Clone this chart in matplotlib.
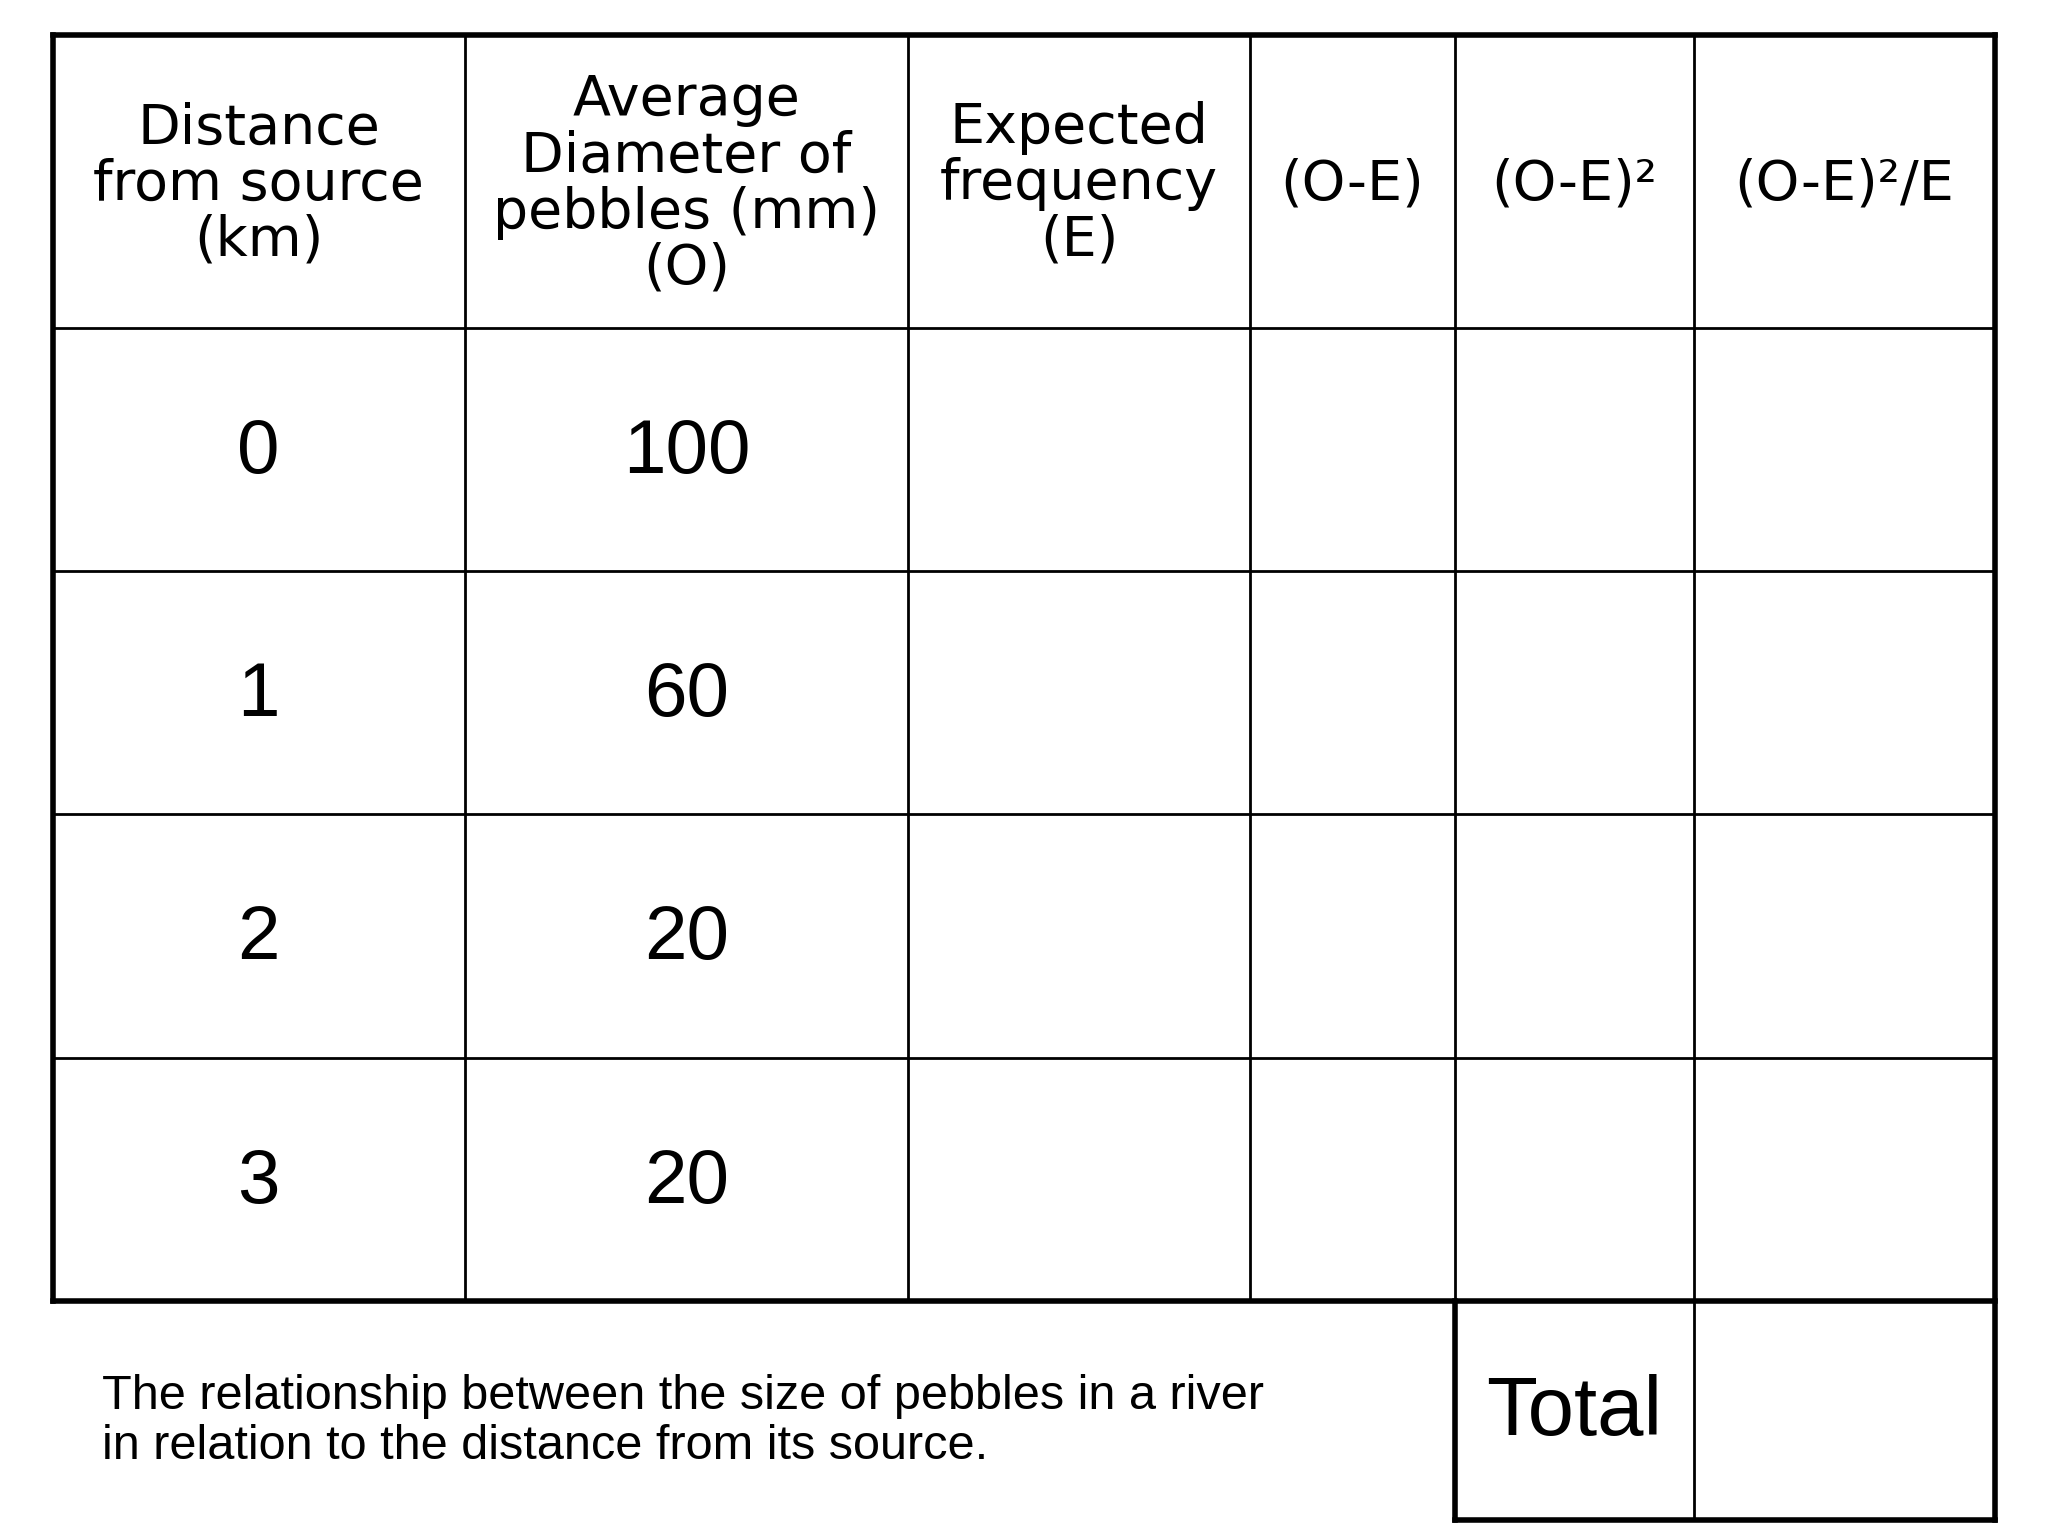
import matplotlib
matplotlib.use("Agg")
import matplotlib.pyplot as plt

headers = ["Distance\nfrom source\n(km)", "Average\nDiameter of\npebbles (mm)\n(O)",
           "Expected\nfrequency\n(E)", "(O-E)", "(O-E)²", "(O-E)²/E"]
distances = ["0", "1", "2", "3"]
diameters = ["100", "60", "20", "20"]
caption = "The relationship between the size of pebbles in a river\nin relation to the distance from its source."
total_label = "Total"

xs = [40, 354, 692, 952, 1108, 1290, 1520]
ys = [27, 250, 435, 620, 806, 991]
ybot = 1158

fig = plt.figure(figsize=(20.48, 15.36), dpi=100)
ax = fig.add_axes([0, 0, 1, 1])
ax.set_xlim(0, 1560)
ax.set_ylim(1170, 0)
ax.axis("off")

thin, thick = 2.0, 4.0
for y in ys[1:-1]:
    ax.plot([xs[0], xs[-1]], [y, y], color="black", lw=thin)
ax.plot([xs[0], xs[-1]], [ys[0], ys[0]], color="black", lw=thick)
ax.plot([xs[0], xs[-1]], [ys[-1], ys[-1]], color="black", lw=thick)
ax.plot([xs[4], xs[-1]], [ybot, ybot], color="black", lw=thick)
for i, x in enumerate(xs):
    if i == 4:
        ax.plot([x, x], [ys[0], ys[-1]], color="black", lw=thin)
        ax.plot([x, x], [ys[-1], ybot], color="black", lw=thick)
        continue
    lw = thick if i in (0, len(xs) - 1) else thin
    bottom = ybot if i >= 4 else ys[-1]
    ax.plot([x, x], [ys[0], bottom], color="black", lw=lw)

for i, h in enumerate(headers):
    ax.text((xs[i] + xs[i + 1]) / 2, (ys[0] + ys[1]) / 2 + 2, h, ha="center", va="center",
            fontsize=40, family="DejaVu Sans", linespacing=1.05)

for r in range(4):
    yc = (ys[r + 1] + ys[r + 2]) / 2
    ax.text((xs[0] + xs[1]) / 2, yc + 3, distances[r], ha="center", va="center",
            fontsize=55, family="Liberation Sans")
    ax.text((xs[1] + xs[2]) / 2, yc + 3, diameters[r], ha="center", va="center",
            fontsize=55, family="Liberation Sans")

ax.text(78, 1083, caption, ha="left", va="center", fontsize=35,
        family="Liberation Sans", linespacing=1.15)
ax.text((xs[4] + xs[5]) / 2, (ys[-1] + ybot) / 2 + 2, total_label, ha="center", va="center",
        fontsize=60, family="Liberation Sans")

fig.savefig("out.png", dpi=100, facecolor="white")
